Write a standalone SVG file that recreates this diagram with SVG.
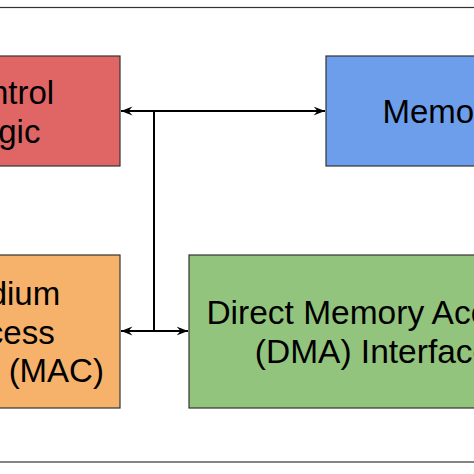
<svg xmlns="http://www.w3.org/2000/svg" width="474" height="474" viewBox="0 0 474 474">
<style>
.box{stroke:#333;stroke-width:1.2}
.lbl{font-family:"Liberation Sans",Arial,sans-serif;font-size:33px;fill:#000;text-anchor:middle}
.big{font-size:33.5px}
.conn{stroke:#000;stroke-width:2;fill:none}
</style>
<defs>
<marker id="arr" viewBox="0 0 12 10" refX="11.5" refY="5" markerWidth="12" markerHeight="10" markerUnits="userSpaceOnUse" orient="auto-start-reverse">
<path d="M0,0.5 L11.5,5 L0,9.5 L4,5 Z" fill="#000"/>
</marker>
</defs>
<rect x="-20" y="7.5" width="520" height="454.5" fill="#fff" stroke="#333" stroke-width="1.2"/>
<g id="control">
<rect class="box" x="-118" y="56" width="238" height="110" fill="#e06666"/>
<text class="lbl" x="1" y="104">Control</text>
<text class="lbl" x="1" y="143">Logic</text>
</g>
<g id="memory">
<rect class="box" x="326" y="56" width="232" height="110" fill="#6d9eeb"/>
<text class="lbl" x="442" y="123">Memory</text>
</g>
<g id="mac">
<rect class="box" x="-117" y="255" width="237" height="153" fill="#f6b26b"/>
<text class="lbl" x="1.5" y="305">Medium</text>
<text class="lbl" x="1.5" y="343.5">Access</text>
<text class="lbl" x="-1.5" y="382">Control (MAC)</text>
</g>
<g id="dma">
<rect class="box" x="189" y="255" width="367" height="153" fill="#93c47d"/>
<text class="lbl big" x="373" y="323.5">Direct Memory Access</text>
<text class="lbl big" x="373" y="363">(DMA) Interface</text>
</g>
<g id="connectors">
<path class="conn" d="M121,111 L325,111" marker-start="url(#arr)" marker-end="url(#arr)"/>
<path class="conn" d="M154,111 L154,331"/>
<path class="conn" d="M121,331 L188,331" marker-start="url(#arr)" marker-end="url(#arr)"/>
</g>
</svg>
